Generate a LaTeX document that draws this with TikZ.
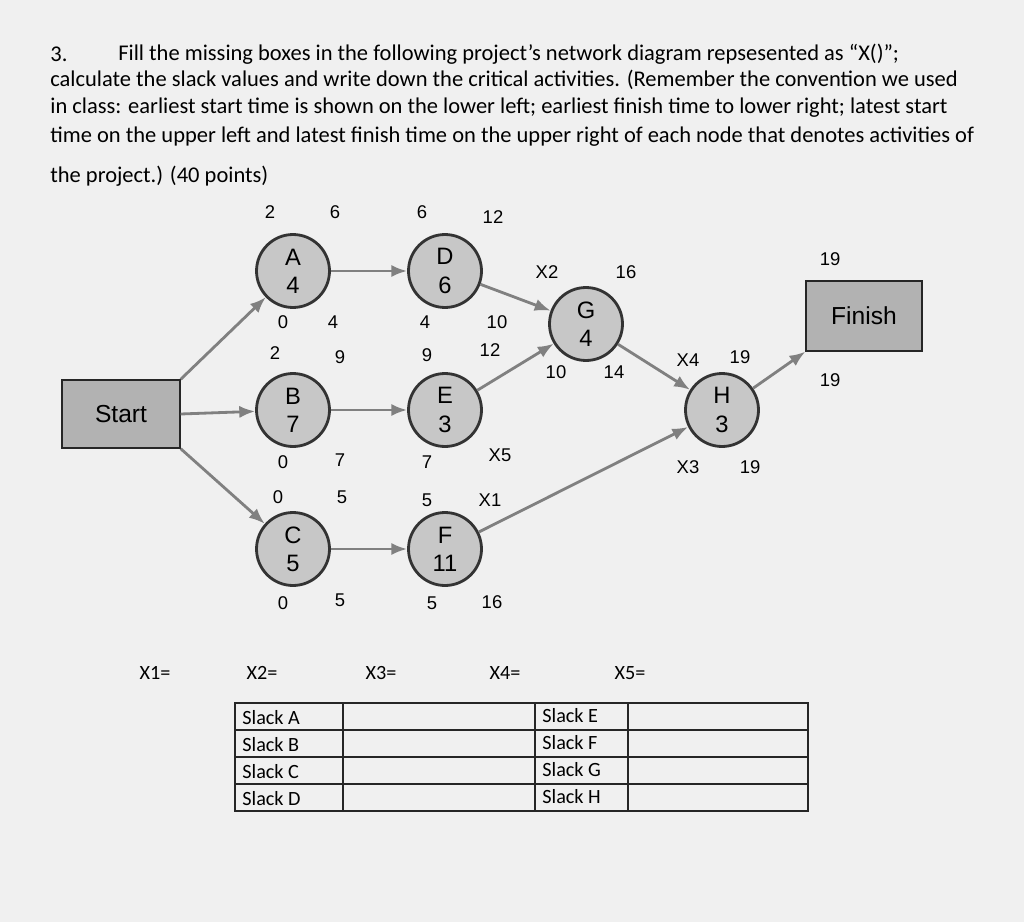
\documentclass[tikz,border=0pt]{standalone}
\usepackage{fontspec}
\usetikzlibrary{arrows.meta}
\setmainfont{Carlito}
\newfontfamily\arial{Liberation Sans}
\begin{document}
\begin{tikzpicture}[x=0.02cm,y=-0.02cm,
  act/.style={circle,draw=black!80,line width=1.6pt,fill=black!22,minimum size=1.46cm,inner sep=0pt,align=center,font=\arial\fontsize{13.5}{16}\selectfont},
  term/.style={draw=black!85,line width=0.8pt,fill=black!30,font=\arial\fontsize{14}{16}\selectfont},
  num/.style={font=\arial\fontsize{10.5}{12}\selectfont},
  arr/.style={draw=black!50,line width=1.6pt,-{Latex[length=9pt,width=7pt]}},
  txt/.style={font=\fontsize{12.8}{15}\selectfont,anchor=west,inner sep=0pt}]
\fill[black!6] (0,0) rectangle (1024,922);
\useasboundingbox (0,0) rectangle (1024,922);
\node[txt] (t0) at (50,54) {3.};
\node[txt] (t1) at (118,54) {Fill the missing boxes in the following project’s network diagram repsesented as “X()”;};
\node[txt] (t2) at (50,80) {calculate the slack values and write down the critical activities. (Remember the convention we used};
\node[txt] (t3) at (50,108) {in class: earliest start time is shown on the lower left; earliest finish time to lower right; latest start};
\node[txt] (t4) at (50,137) {time on the upper left and latest finish time on the upper right of each node that denotes activities of};
\node[txt] (t5) at (50,176) {the project.) (40 points)};

\node[term,minimum width=2.36cm,minimum height=1.36cm] (start) at (121,414) {Start};
\node[term,minimum width=2.32cm,minimum height=1.4cm] (finish) at (864,316) {Finish};
\node[act] (A) at (293,271) {A\\4};
\node[act] (D) at (445,271) {D\\6};
\node[act] (G) at (586,324) {G\\4};
\node[act] (B) at (293,410) {B\\7};
\node[act] (E) at (445,410) {E\\3};
\node[act] (H) at (722,410) {H\\3};
\node[act] (C) at (293,549) {C\\5};
\node[act] (F) at (445,549) {F\\11};

\draw[arr] (start.north east) -- (A);
\draw[arr] (start.east) -- (B);
\draw[arr] (start.south east) -- (C);
\draw[arr] (A) -- (D);
\draw[arr] (B) -- (E);
\draw[arr] (C) -- (F);
\draw[arr] (D) -- (G);
\draw[arr] (E) -- (G);
\draw[arr] (F) -- (H);
\draw[arr] (G) -- (H);
\draw[arr] (H) -- (finish.south west);

\foreach \n/\x/\y/\t in {a1/270/212/2,a2/335/212/6,a3/283/322/0,a4/333/322/4,
 d1/422/212/6,d2/493/217/12,d3/425/322/4,d4/497/322/10,
 g1/547/272/X2,g2/626/272/16,g3/556/372/10,g4/614/372/14,
 b1/275/353/2,b2/340/357/9,b3/283/462/0,b4/340/460/7,
 e1/427/355/9,e2/490/350/12,e3/427/462/7,e4/500/455/X5,
 h1/688/360/X4,h2/740/357/19,h3/688/467/X3,h4/750/467/19,
 c1/278/497/0,c2/342/497/5,c3/283/603/0,c4/340/600/5,
 f1/427/500/5,f2/490/500/X1,f3/432/603/5,f4/492/602/16,
 n1/830/259/19,n2/830/380/19}
  \node[num] (\n) at (\x,\y) {\t};

\foreach \n/\x/\t in {x1/155/X1=,x2/262/X2=,x3/381/X3=,x4/505/X4=,x5/630/X5=}
  \node[num,font=\fontsize{11.5}{13}\selectfont] (\n) at (\x,673) {\t};

\draw[black!85,line width=0.7pt] (235,703) rectangle (808,811);
\foreach \y in {730,757,784} \draw[black!85,line width=0.7pt] (235,\y) -- (808,\y);
\foreach \x in {343,535,628} \draw[black!85,line width=0.7pt] (\x,703) -- (\x,811);
\foreach \n/\x/\y/\t in {s1/242/718/Slack A,s2/242/745/Slack B,s3/242/772/Slack C,s4/242/799/Slack D,
 s5/542/716/Slack E,s6/542/743/Slack F,s7/542/770/Slack G,s8/542/797/Slack H}
  \node[txt,font=\fontsize{11.5}{13}\selectfont] (\n) at (\x,\y) {\t};
\end{tikzpicture}
\end{document}
